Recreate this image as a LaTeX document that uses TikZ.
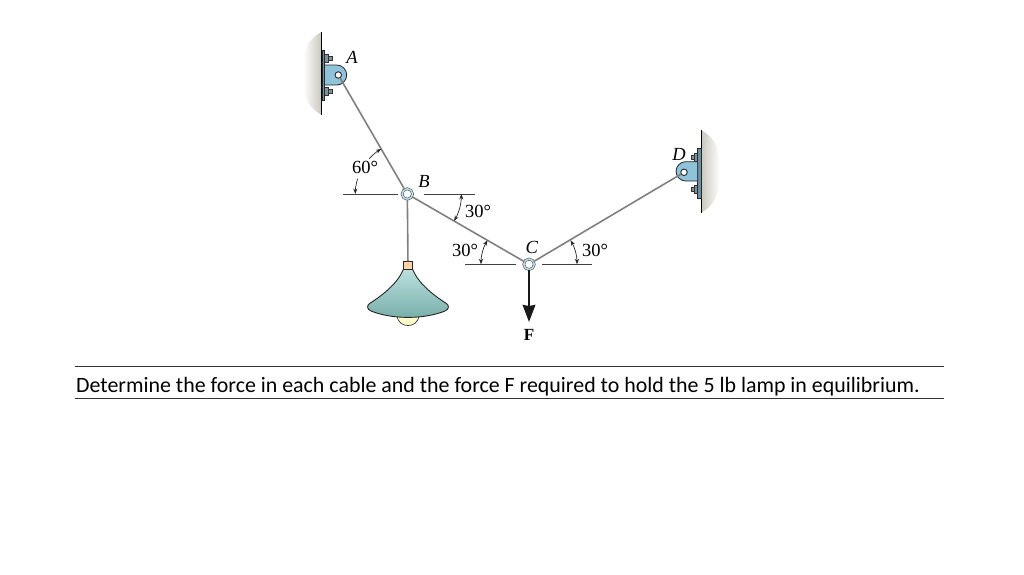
\documentclass[tikz,border=0pt]{standalone}
\usepackage{fontspec}
\setmainfont{Liberation Serif}
\newfontfamily\capfont{Carlito}
\usetikzlibrary{arrows.meta, calc, positioning}
\definecolor{steelblue}{HTML}{8FC3DA}
\definecolor{lampgreen}{HTML}{8CCCC8}
\definecolor{wallgray}{HTML}{C9C7BC}
\tikzset{
  cable/.style={draw=black!50, line width=1.6pt},
  dimline/.style={draw=black!75, line width=0.7pt},
  dimarrow/.style={draw=black!85, line width=0.7pt, >={Stealth[length=5.5pt,width=4pt]}},
  pinhole/.style={circle, draw=black!85, fill=white, line width=0.9pt, minimum size=6.5pt, inner sep=0pt},
  ringnode/.style={circle, draw=black!75, fill=white, double=steelblue!60, double distance=1.6pt, line width=0.5pt, minimum size=10.5pt, inner sep=0pt},
  lbl/.style={font=\fontsize{18.5}{18.5}\selectfont, inner sep=0pt},
  ptname/.style={font=\fontsize{18.5}{18.5}\selectfont\itshape, inner sep=0pt},
  plate/.style={draw=black!85, fill=steelblue!75!black, line width=0.7pt},
  nut/.style={draw=black!80, fill=steelblue!50!black!70, line width=0.4pt}
}
\begin{document}
\begin{tikzpicture}[x=1pt,y=-1pt]
\useasboundingbox (0,0) rectangle (1024,574);
% walls
\shade[left color=white, right color=wallgray] (321.7,32) .. controls (306,40) and (303,52) .. (303,73)
  .. controls (303,95) and (306,106) .. (321.7,115) -- cycle;
\shade[left color=wallgray, right color=white] (701,130) .. controls (716,138) and (720,150) .. (720,171)
  .. controls (720,193) and (716,204) .. (701,213) -- cycle;
\draw[line width=0.8pt] (321.7,31.7) -- (321.7,115);
\draw[line width=0.8pt] (701,130) -- (701,213);
% brackets
\foreach \y in {58,90.7} {
  \draw[nut] (324.5,\y-4) rectangle (328.5,\y+4);
  \draw[nut] (328.5,\y-2) rectangle (332,\y+2);
  \draw[nut] (697.7,\y+98.7-4) rectangle (693.7,\y+98.7+4);
  \draw[nut] (693.7,\y+98.7-2) rectangle (690.7,\y+98.7+2);
}
\draw[plate] (322,50.7) rectangle (324.5,100);
\draw[plate] (697.7,148) rectangle (701,198);
\draw[draw=black!85, fill=steelblue, line width=0.8pt] (324.5,65) -- (336.7,65) arc (-90:90:10) -- (324.5,85) -- cycle;
\draw[draw=black!85, fill=steelblue, line width=0.8pt] (697.7,161.7) -- (685.7,161.7) arc (270:90:9.65) -- (697.7,181) -- cycle;
% lamp
\draw[fill=yellow!20, draw=black!80, line width=0.7pt] (396.7,315) .. controls (398,323) and (403,325.5) .. (408,325.5)
  .. controls (413,325.5) and (418,323) .. (419.3,315) -- cycle;
\draw[draw=black!85, line width=0.9pt, top color=lampgreen!60, bottom color=lampgreen!85!black]
  (403.5,269) .. controls (398,283) and (383,295) .. (369.5,303.5)
  .. controls (366.5,306) and (367,309) .. (371,311)
  .. controls (392,319.5) and (424,319.5) .. (445,311)
  .. controls (449,309) and (449.5,306) .. (446.5,303.5)
  .. controls (433,295) and (418,283) .. (412.5,269) -- cycle;
\node[draw=black!85, fill=orange!35, line width=0.6pt, minimum width=9.3pt, minimum height=7.3pt, inner sep=0pt] (lampcap) at (408,265.4) {};
% pins
\node[pinhole] (A) at (338.3,75) {};
\node[ringnode] (B) at (407.3,194) {};
\node[ringnode] (C) at (529,264.3) {};
\node[pinhole] (D) at (684,172.3) {};
\coordinate (Ftip) at (529,322);
% cables
\draw[cable] (A) -- (B);
\draw[cable] (B) -- (C);
\draw[cable] (C) -- (D);
\draw[cable] (B) -- (lampcap);
\draw[line width=2.4pt, -{Stealth[length=17pt,width=12.5pt,inset=1pt]}, black!90] (C) -- (Ftip);
% dimension lines
\draw[dimline] (343,194) -- (398,194);
\draw[dimline] (424,194) -- (475,194);
\draw[dimline] (465,264.4) -- (516,264.4);
\draw[dimline] (542,264.4) -- (592,264.4);
\draw[dimarrow,->] ($(B)+(197:52)$) arc (197:180:52);
\draw[dimarrow,->] ($(B)+(223:52)$) arc (223:240:52);
\draw[dimarrow,<->] ($(B)+(0:54)$) arc (0:30:54);
\draw[dimarrow,<->] ($(C)+(180:48)$) arc (180:210:48);
\draw[dimarrow,<->] ($(C)+(360:48)$) arc (360:330:48);
% labels
\node[ptname] (labA) at (352,57.7) {A};
\node[ptname] (labB) at (424,181) {B};
\node[ptname] (labC) at (531.7,247.7) {C};
\node[ptname] (labD) at (679,154) {D};
\node[lbl] (ang1) at (365,167.7) {60°};
\node[lbl] (ang2) at (478,211.7) {30°};
\node[lbl] (ang3) at (465,250) {30°};
\node[lbl] (ang4) at (595,250) {30°};
\node[font=\fontsize{17}{17}\selectfont\bfseries, inner sep=0pt] (labF) at (529,335) {F};
% caption
\coordinate (capTL) at (75,366);
\coordinate (capTR) at (944,366);
\coordinate (capBL) at (75,398);
\coordinate (capBR) at (944,398);
\draw[line width=0.9pt, black!80] (capTL) -- (capTR);
\draw[line width=0.9pt, black!80] (capBL) -- (capBR);
\node[anchor=base west, inner sep=0pt, font=\capfont\fontsize{21.9}{21.9}\selectfont] (question) at (76,392) {Determine the force in each cable and the force F required to hold the 5 lb lamp in equilibrium.};
\end{tikzpicture}
\end{document}
